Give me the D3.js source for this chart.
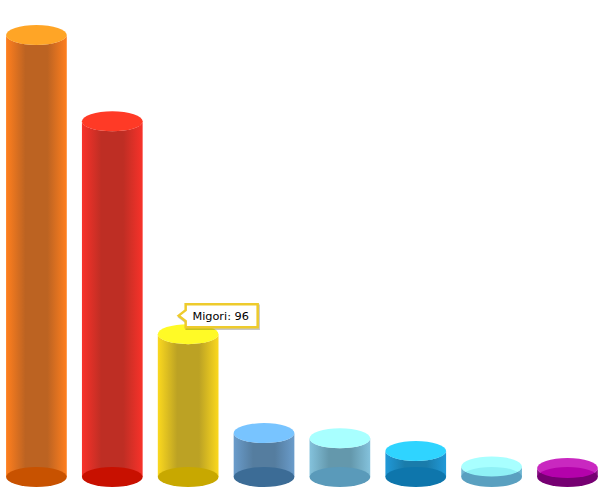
<!DOCTYPE html>
<html>
<head>
<meta charset="utf-8">
<script src="https://cdn.jsdelivr.net/npm/d3@7"></script>
<style>
  html, body { margin: 0; padding: 0; background: #fff; }
  svg { display: block; }
</style>
</head>
<body>
<svg id="chart" width="602" height="489"></svg>
<script>
// only the yellow bar is named in the picture (its tooltip)
var categories = ["", "", "Migori", "", "", "", "", ""];
var values = [297, 239, 96, 29.5, 26, 17.5, 7, 6];

var edgeColors = ["#ff7f1e", "#f8322a", "#fbd81e", "#6a9ccb", "#84c2dc", "#2099d8", "#70b8d4", "#8a1085"];
var midColors = ["#bc6322", "#be2e24", "#bca224", "#557d9f", "#6498ac", "#1a7cab", "#5a94aa", "#6e0a6a"];
var topColors = ["#ff9500", "#ff1700", "#fff900", "#60baff", "#99ffff", "#0accff", "#99ffff", "#c002b5"];
var baseColors = ["#c85200", "#c81000", "#c8a800", "#3c6c96", "#5a9aba", "#0e76ac", "#5aa0c0", "#760072"];

var ry = 10;

var svg = d3.select("#chart");
var defs = svg.append("defs");

var x = d3.scaleBand()
  .domain(d3.range(values.length))
  .range([-1.5, 605.4])
  .paddingInner(0.2)
  .paddingOuter(0.1);

var rx = x.bandwidth() / 2;

var y = d3.scaleLinear()
  .domain([0, 297])
  .range([477, 35]);

// side gradients, darker in the middle of the cylinder
values.forEach(function(v, i) {
  var g = defs.append("linearGradient").attr("id", "side" + i);
  [[0, edgeColors[i]], [0.32, midColors[i]], [0.68, midColors[i]], [1, edgeColors[i]]].forEach(function(s) {
    g.append("stop").attr("offset", s[0]).attr("stop-color", s[1]);
  });
});

// wall of the cylinder, cut along the front edge of the top ellipse
function sidePath(d, i) {
  var x0 = x(i), x1 = x0 + x.bandwidth();
  return "M" + x0 + "," + y(d) +
    "A" + rx + "," + ry + " 0 0 0 " + x1 + "," + y(d) +
    "L" + x1 + "," + y(0) +
    "L" + x0 + "," + y(0) + "Z";
}

var bar = svg.selectAll("g.bar")
  .data(values)
  .enter()
  .append("g")
  .attr("class", "bar");

bar.append("path")
  .attr("d", sidePath)
  .attr("fill", (d, i) => "url(#side" + i + ")");

bar.append("ellipse")
  .attr("cx", (d, i) => x(i) + rx)
  .attr("cy", y(0))
  .attr("rx", rx)
  .attr("ry", ry)
  .attr("fill", (d, i) => baseColors[i]);

bar.append("ellipse")
  .attr("cx", (d, i) => x(i) + rx)
  .attr("cy", d => y(d))
  .attr("rx", rx)
  .attr("ry", ry)
  .attr("fill", (d, i) => topColors[i])
  .attr("fill-opacity", 0.85);

// tooltip on the Migori bar
var hover = 2;
var tx = x(hover) + rx - 2.5;
var ty = y(values[hover]) - 30;
var tipPath = "M" + tx + "," + ty + "h72v23h-72v-6l-7,-5.5l7,-5.5z";

svg.append("path")
  .attr("d", tipPath)
  .attr("transform", "translate(1,1.5)")
  .attr("fill", "none")
  .attr("stroke", "#000")
  .attr("stroke-opacity", 0.22)
  .attr("stroke-width", 2.5);

svg.append("path")
  .attr("d", tipPath)
  .attr("fill", "#fff")
  .attr("stroke", "#eecb2c")
  .attr("stroke-width", 2.5);

svg.append("text")
  .attr("x", tx + 35)
  .attr("y", ty + 15.5)
  .attr("text-anchor", "middle")
  .attr("font-family", "'DejaVu Sans', sans-serif")
  .attr("font-size", 11.3)
  .attr("fill", "#000")
  .text(categories[hover] + ": " + values[hover]);
</script>
</body>
</html>
